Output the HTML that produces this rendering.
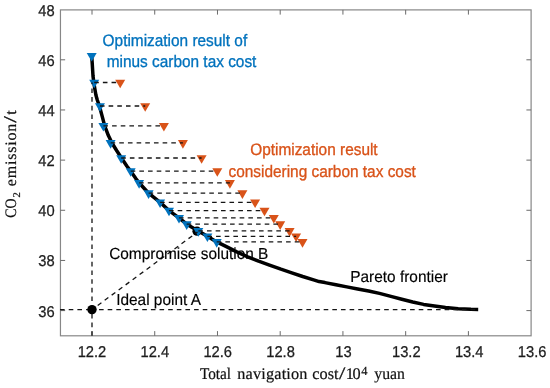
<!DOCTYPE html>
<html><head><meta charset="utf-8"><title>Pareto frontier</title>
<style>
html,body{margin:0;padding:0;background:#fff;}
body{width:550px;height:388px;overflow:hidden;}
svg{display:block;text-rendering:geometricPrecision;}
.tk{font-family:"Liberation Sans",Arial,Helvetica,sans-serif;font-size:15px;fill:#1c1c1c;stroke:#1c1c1c;stroke-width:0.25px;}
.an{font-family:"Liberation Sans",Arial,Helvetica,sans-serif;font-size:15.4px;}
.ax{font-family:"Liberation Serif","Times New Roman",serif;font-size:16px;fill:#111;}
</style></head><body>
<svg width="550" height="388" viewBox="0 0 550 388">
<rect x="0" y="0" width="550" height="388" fill="#fff"/>
<rect x="60.45" y="9.9" width="470.65000000000003" height="325.90000000000003" fill="none" stroke="#878787" stroke-width="1.2"/>
<g stroke="#6a6a6a" stroke-width="1">
<line x1="92.00" y1="335.8" x2="92.00" y2="331.1"/>
<line x1="92.00" y1="9.9" x2="92.00" y2="14.600000000000001"/>
<line x1="154.73" y1="335.8" x2="154.73" y2="331.1"/>
<line x1="154.73" y1="9.9" x2="154.73" y2="14.600000000000001"/>
<line x1="217.47" y1="335.8" x2="217.47" y2="331.1"/>
<line x1="217.47" y1="9.9" x2="217.47" y2="14.600000000000001"/>
<line x1="280.20" y1="335.8" x2="280.20" y2="331.1"/>
<line x1="280.20" y1="9.9" x2="280.20" y2="14.600000000000001"/>
<line x1="342.93" y1="335.8" x2="342.93" y2="331.1"/>
<line x1="342.93" y1="9.9" x2="342.93" y2="14.600000000000001"/>
<line x1="405.67" y1="335.8" x2="405.67" y2="331.1"/>
<line x1="405.67" y1="9.9" x2="405.67" y2="14.600000000000001"/>
<line x1="468.40" y1="335.8" x2="468.40" y2="331.1"/>
<line x1="468.40" y1="9.9" x2="468.40" y2="14.600000000000001"/>
<line x1="60.45" y1="310.60" x2="65.15" y2="310.60"/>
<line x1="531.1" y1="310.60" x2="526.4" y2="310.60"/>
<line x1="60.45" y1="260.44" x2="65.15" y2="260.44"/>
<line x1="531.1" y1="260.44" x2="526.4" y2="260.44"/>
<line x1="60.45" y1="210.28" x2="65.15" y2="210.28"/>
<line x1="531.1" y1="210.28" x2="526.4" y2="210.28"/>
<line x1="60.45" y1="160.12" x2="65.15" y2="160.12"/>
<line x1="531.1" y1="160.12" x2="526.4" y2="160.12"/>
<line x1="60.45" y1="109.96" x2="65.15" y2="109.96"/>
<line x1="531.1" y1="109.96" x2="526.4" y2="109.96"/>
<line x1="60.45" y1="59.80" x2="65.15" y2="59.80"/>
<line x1="531.1" y1="59.80" x2="526.4" y2="59.80"/>
</g>
<g class="tk" text-anchor="middle">
<text transform="translate(91.95,357.2) scale(0.98,1.05)">12.2</text>
<text transform="translate(154.82,357.2) scale(0.98,1.05)">12.4</text>
<text transform="translate(217.70,357.2) scale(0.98,1.05)">12.6</text>
<text transform="translate(280.57,357.2) scale(0.98,1.05)">12.8</text>
<text transform="translate(343.45,357.2) scale(0.98,1.05)">13</text>
<text transform="translate(406.32,357.2) scale(0.98,1.05)">13.2</text>
<text transform="translate(469.20,357.2) scale(0.98,1.05)">13.4</text>
<text transform="translate(532.08,357.2) scale(0.98,1.05)">13.6</text>
</g>
<g class="tk" text-anchor="end">
<text transform="translate(54.6,316.60) scale(0.98,1.05)">36</text>
<text transform="translate(54.6,266.44) scale(0.98,1.05)">38</text>
<text transform="translate(54.6,216.28) scale(0.98,1.05)">40</text>
<text transform="translate(54.6,166.12) scale(0.98,1.05)">42</text>
<text transform="translate(54.6,115.96) scale(0.98,1.05)">44</text>
<text transform="translate(54.6,65.80) scale(0.98,1.05)">46</text>
<text transform="translate(54.6,15.64) scale(0.98,1.05)">48</text>
</g>
<path d="M91.7,55.8 L92.2,63.0 L93.0,76.0 L93.8,82.5 L94.8,88.7 L95.9,95.0 L97.3,100.0 L99.4,106.0 L102.0,115.6 L104.7,125.9 L108.4,135.6 L112.0,143.0 L116.6,150.5 L121.5,158.0 L126.8,166.0 L130.6,171.1 L136.0,178.8 L139.3,183.0 L148.6,193.2 L160.1,202.3 L169.0,210.6 L179.0,217.8 L186.7,224.2 L198.3,230.9 L207.4,236.3 L216.7,241.9 L225.9,246.4 L236.8,251.9 L247.7,256.8 L258.6,261.2 L269.5,265.1 L280.9,269.2 L291.8,272.8 L302.7,276.5 L313.6,279.9 L319.1,281.6 L325.0,282.6 L335.9,284.7 L346.8,286.9 L357.7,289.0 L368.6,291.0 L379.5,293.4 L390.9,296.4 L401.8,299.3 L412.7,302.0 L423.6,304.4 L434.5,306.0 L445.5,307.6 L458.2,308.8 L470.9,309.3 L478.2,309.4" fill="none" stroke="#000" stroke-width="3.5" stroke-linejoin="round"/>
<circle cx="197" cy="231.2" r="4.6" fill="#000"/>
<g fill="#0072bd"><polygon points="86.70,52.93 96.70,52.93 91.70,61.53"/><polygon points="89.20,79.63 99.20,79.63 94.20,88.23"/><polygon points="94.95,103.13 104.95,103.13 99.95,111.73"/><polygon points="98.40,122.93 108.40,122.93 103.40,131.53"/><polygon points="105.60,140.03 115.60,140.03 110.60,148.63"/><polygon points="116.20,155.13 126.20,155.13 121.20,163.73"/><polygon points="125.70,168.23 135.70,168.23 130.70,176.83"/><polygon points="134.10,180.03 144.10,180.03 139.10,188.63"/><polygon points="143.60,190.33 153.60,190.33 148.60,198.93"/><polygon points="155.10,199.43 165.10,199.43 160.10,208.03"/><polygon points="164.00,207.73 174.00,207.73 169.00,216.33"/><polygon points="174.00,214.93 184.00,214.93 179.00,223.53"/><polygon points="181.70,221.33 191.70,221.33 186.70,229.93"/><polygon points="193.30,228.03 203.30,228.03 198.30,236.63"/><polygon points="202.40,233.43 212.40,233.43 207.40,242.03"/><polygon points="211.70,239.03 221.70,239.03 216.70,247.63"/></g>
<g fill="#d95319"><polygon points="115.20,79.63 125.20,79.63 120.20,88.23"/><polygon points="140.20,103.13 150.20,103.13 145.20,111.73"/><polygon points="158.90,122.93 168.90,122.93 163.90,131.53"/><polygon points="177.90,140.03 187.90,140.03 182.90,148.63"/><polygon points="196.60,155.13 206.60,155.13 201.60,163.73"/><polygon points="212.30,168.23 222.30,168.23 217.30,176.83"/><polygon points="224.90,180.03 234.90,180.03 229.90,188.63"/><polygon points="237.40,190.33 247.40,190.33 242.40,198.93"/><polygon points="250.10,199.43 260.10,199.43 255.10,208.03"/><polygon points="259.50,207.73 269.50,207.73 264.50,216.33"/><polygon points="268.80,214.93 278.80,214.93 273.80,223.53"/><polygon points="275.20,221.33 285.20,221.33 280.20,229.93"/><polygon points="284.60,228.03 294.60,228.03 289.60,236.63"/><polygon points="291.10,233.43 301.10,233.43 296.10,242.03"/><polygon points="297.50,239.03 307.50,239.03 302.50,247.63"/></g>
<g stroke="#151515" stroke-width="1.3" stroke-dasharray="4.6 4.07" fill="none">
<line x1="92.0" y1="335.8" x2="92.0" y2="82.5"/>
<line x1="60.050000000000004" y1="309.6" x2="92" y2="309.6"/>
<line x1="90.4" y1="309.6" x2="476" y2="309.6" stroke-dasharray="4.6 4.04"/>
<line x1="92.0" y1="309.6" x2="197.5" y2="232" stroke-dashoffset="1.6"/>
<line x1="94.20" y1="82.50" x2="120.20" y2="82.50"/>
<line x1="99.95" y1="106.00" x2="145.20" y2="106.00"/>
<line x1="103.40" y1="125.80" x2="163.90" y2="125.80"/>
<line x1="110.60" y1="142.90" x2="182.90" y2="142.90"/>
<line x1="121.20" y1="158.00" x2="201.60" y2="158.00"/>
<line x1="130.70" y1="171.10" x2="217.30" y2="171.10"/>
<line x1="139.10" y1="182.90" x2="229.90" y2="182.90"/>
<line x1="148.60" y1="193.20" x2="242.40" y2="193.20"/>
<line x1="160.10" y1="202.30" x2="255.10" y2="202.30"/>
<line x1="169.00" y1="210.60" x2="264.50" y2="210.60"/>
<line x1="179.00" y1="217.80" x2="273.80" y2="217.80"/>
<line x1="186.70" y1="224.20" x2="280.20" y2="224.20"/>
<line x1="198.30" y1="230.90" x2="289.60" y2="230.90"/>
<line x1="207.40" y1="236.30" x2="296.10" y2="236.30"/>
<line x1="216.70" y1="241.90" x2="302.50" y2="241.90"/>
</g>
<circle cx="92.0" cy="309.6" r="4.7" fill="#000"/>
<g class="an" fill="#0072bd" stroke="#0072bd" stroke-width="0.3"><text transform="translate(102.6,45.7) scale(1.0,1.08)">Optimization result of</text><text transform="translate(106.7,66.7) scale(1.0,1.08)">minus carbon tax cost</text></g>
<g class="an" fill="#d95319" stroke="#d95319" stroke-width="0.3"><text transform="translate(250.2,155.4) scale(1.0,1.08)">Optimization result</text><text transform="translate(228.5,176.5) scale(1.0,1.08)">considering carbon tax cost</text></g>
<g class="an" fill="#000" stroke="#000" stroke-width="0.15"><text transform="translate(109.2,258.7) scale(1.0,1.04)">Compromise solution B</text><text transform="translate(116.2,305.4) scale(1.0,1.04)">Ideal point A</text><text transform="translate(350.3,281.8) scale(1.0,1.04)">Pareto frontier</text></g>
<g class="ax" style="font-size:16.3px" stroke="#111" stroke-width="0.2">
<text x="199.9" y="378.7" textLength="31.2" lengthAdjust="spacingAndGlyphs">Total</text>
<text x="237.2" y="378.7" textLength="70.3" lengthAdjust="spacing">navigation</text>
<text x="312.3" y="378.7" textLength="26.2" lengthAdjust="spacingAndGlyphs">cost</text>
<text transform="translate(339.0,378.9) scale(1.4,1.08)" x="0" y="0">/</text>
<text x="345.8" y="378.7" style="font-size:16.3px">1</text>
<text x="352.5" y="378.7" style="font-size:16.3px">0</text>
<text x="361.3" y="374.5" style="font-size:12.5px">4</text>
<text x="374.3" y="378.7" textLength="30.6" lengthAdjust="spacingAndGlyphs">yuan</text>
</g>
<g class="ax" transform="translate(15.9,218) rotate(-90)" stroke="#111" stroke-width="0.2">
<text x="0.2" y="0" textLength="19.3" lengthAdjust="spacingAndGlyphs">CO</text>
<text x="20.6" y="4.0" style="font-size:10.5px">2</text>
<text x="31.8" y="0" letter-spacing="0.8">emission</text>
<text transform="translate(95.3,0.2) scale(1.5,1.13)" x="0" y="0">/</text>
<text x="103.2" y="0">t</text>
</g>
</svg></body></html>
